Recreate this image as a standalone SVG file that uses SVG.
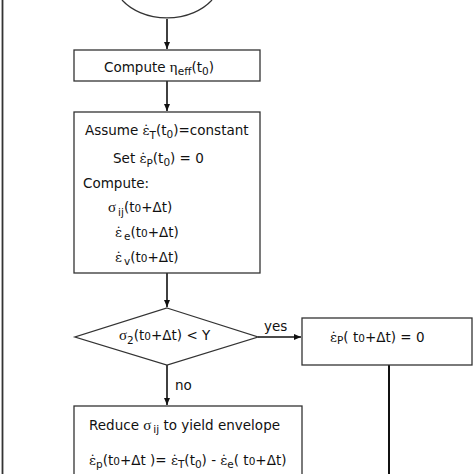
<svg xmlns="http://www.w3.org/2000/svg" width="474" height="474" viewBox="0 0 474 474">
<style>
  .box{fill:#fff;stroke:#333;stroke-width:1.3}
  .ln{fill:none;stroke:#111;stroke-width:1.6}
  text{font-family:"DejaVu Sans","Liberation Sans",sans-serif;font-size:13.5px;fill:#111}
  .g{font-family:"Liberation Serif","DejaVu Serif",serif;font-size:15px}
  .e{font-family:"DejaVu Serif","Liberation Serif",serif;font-size:13.5px}
  .s{font-size:10.5px}
</style>
<defs>
  <marker id="ah" markerWidth="8" markerHeight="8" refX="7" refY="4" orient="auto" markerUnits="userSpaceOnUse">
    <path d="M0,1 L7,4 L0,7 Z" fill="#111"/>
  </marker>
</defs>
<rect width="474" height="474" fill="#fff"/>
<line x1="2.5" y1="0" x2="2.5" y2="474" stroke="#333" stroke-width="1.8"/>

<g id="start">
  <path d="M122,0 A55,42 0 0 0 212,0" fill="none" stroke="#333" stroke-width="1.3"/>
</g>

<g id="connectors">
  <line class="ln" x1="167" y1="19" x2="167" y2="49" marker-end="url(#ah)"/>
  <line class="ln" x1="167" y1="81" x2="167" y2="111" marker-end="url(#ah)"/>
  <line class="ln" x1="167" y1="273" x2="167" y2="307" marker-end="url(#ah)"/>
  <line class="ln" x1="258" y1="337" x2="301" y2="337" marker-end="url(#ah)"/>
  <line class="ln" x1="167" y1="365" x2="167" y2="405" marker-end="url(#ah)"/>
  <line x1="389" y1="365" x2="389" y2="474" stroke="#111" stroke-width="2"/>
  <text x="264" y="331">yes</text>
  <text x="175" y="390">no</text>
</g>

<g id="compute-eta">
  <rect class="box" x="74" y="50" width="186" height="31"/>
  <text x="104" y="72">Compute <tspan class="g">η</tspan><tspan class="s" dy="3">eff</tspan><tspan dy="-3">(t</tspan><tspan class="s" dy="3">0</tspan><tspan dy="-3">)</tspan></text>
</g>

<g id="assume">
  <rect class="box" x="74" y="112" width="186" height="161"/>
  <text x="85" y="135">Assume <tspan class="e">ε̇</tspan><tspan class="s" dy="4">T</tspan><tspan dy="-4">(t</tspan><tspan class="s" dy="3">0</tspan><tspan dy="-3">)=constant</tspan></text>
  <text x="113" y="163">Set <tspan class="e">ε̇</tspan><tspan class="s" dy="4">P</tspan><tspan dy="-4">(t</tspan><tspan class="s" dy="3">0</tspan><tspan dy="-3">) = 0</tspan></text>
  <text x="83" y="188">Compute:</text>
  <text x="108" y="212"><tspan class="g">σ</tspan><tspan class="s" dx="2" dy="4">ij</tspan><tspan dy="-4">(t</tspan><tspan class="s">0</tspan><tspan>+Δt)</tspan></text>
  <text x="115" y="237"><tspan class="e">ε̇</tspan><tspan class="s" dx="2" dy="3">e</tspan><tspan dy="-3">(t</tspan><tspan class="s">0</tspan><tspan>+Δt)</tspan></text>
  <text x="115" y="262"><tspan class="e">ε̇</tspan><tspan class="s" dx="2" dy="3">v</tspan><tspan dy="-3">(t</tspan><tspan class="s">0</tspan><tspan>+Δt)</tspan></text>
</g>

<g id="decision">
  <polygon class="box" points="167,308 258,337 167,365 75,337"/>
  <text x="119" y="340"><tspan class="g">σ</tspan><tspan class="s" dy="4">2</tspan><tspan dy="-4">(t</tspan><tspan class="s">0</tspan><tspan>+Δt) &lt; Y</tspan></text>
</g>

<g id="plastic-zero">
  <rect class="box" x="302" y="318" width="170" height="47"/>
  <text x="330" y="342"><tspan class="e">ε̇</tspan><tspan class="s" dy="2">P</tspan><tspan dy="-2">( t</tspan><tspan class="s">0</tspan><tspan>+Δt) = 0</tspan></text>
</g>

<g id="reduce">
  <rect class="box" x="74" y="406" width="228" height="80"/>
  <text x="89" y="430">Reduce <tspan class="g">σ</tspan><tspan class="s" dx="2" dy="3">ij</tspan><tspan dy="-3"> to yield envelope</tspan></text>
  <text x="89" y="465"><tspan class="e">ε̇</tspan><tspan class="s" dy="3">p</tspan><tspan dy="-3">(t</tspan><tspan class="s">0</tspan><tspan>+Δt )= </tspan><tspan class="e">ε̇</tspan><tspan class="s" dy="3">T</tspan><tspan dy="-3">(t</tspan><tspan class="s" dy="3">0</tspan><tspan dy="-3">) - </tspan><tspan class="e">ε̇</tspan><tspan class="s" dy="3">e</tspan><tspan dy="-3">( t</tspan><tspan class="s">0</tspan><tspan>+Δt)</tspan></text>
</g>
</svg>
